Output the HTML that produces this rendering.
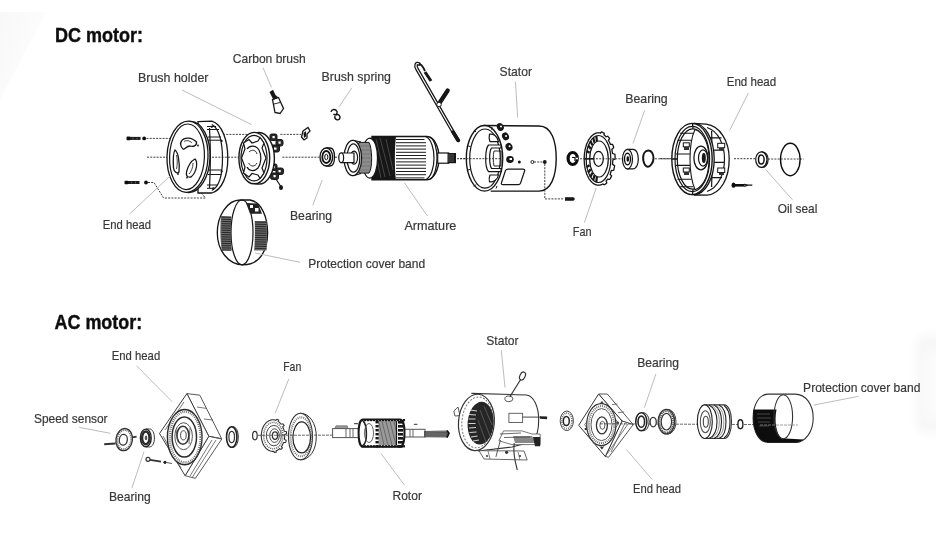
<!DOCTYPE html>
<html><head><meta charset="utf-8">
<style>
html,body{margin:0;padding:0;background:#fff;width:936px;height:556px;overflow:hidden}
svg{display:block}
.t{font-family:"Liberation Sans",sans-serif;font-size:12.6px;fill:#383838;stroke:#383838;stroke-width:0.2}
.h{font-family:"Liberation Sans",sans-serif;font-size:21px;font-weight:bold;fill:#111;stroke:#111;stroke-width:0.45}
.ld{stroke:#b4b4b4;stroke-width:0.9;fill:none}
.k{stroke:#151515;fill:none}
.k:not([stroke-width]){stroke-width:1.2}
.kf{stroke:#151515;fill:#fff}
.kf:not([stroke-width]){stroke-width:1.2}
.d{stroke:#2a2a2a;stroke-width:0.9;fill:none;stroke-dasharray:2 1.2}
</style></head><body>
<svg width="936" height="556" viewBox="0 0 936 556">
<rect width="936" height="556" fill="#fff"/>
<defs>
<linearGradient id="bg1" x1="0" y1="0" x2="1" y2="0.6"><stop offset="0" stop-color="#f8f8f8"/><stop offset="1" stop-color="#fefefe"/></linearGradient>
<filter id="soft" x="0" y="0" width="100%" height="100%"><feGaussianBlur stdDeviation="0.3"/></filter>
<filter id="bl" x="-50%" y="-50%" width="200%" height="200%"><feGaussianBlur stdDeviation="4"/></filter>
</defs>
<polygon points="0,12 46,12 0,100" fill="url(#bg1)"/>
<rect x="916" y="334" width="30" height="100" rx="10" fill="#f7f7f7" filter="url(#bl)"/>
<rect x="924" y="350" width="20" height="70" rx="8" fill="#fbfbfb" filter="url(#bl)"/>
<g filter="url(#soft)">
<!-- titles -->
<text class="h" x="55" y="42.4" textLength="88" lengthAdjust="spacingAndGlyphs">DC motor:</text>
<text class="h" x="54.5" y="328.7" textLength="87.7" lengthAdjust="spacingAndGlyphs">AC motor:</text>
<!-- DC labels -->
<text class="t" x="232.8" y="62.6" textLength="73" lengthAdjust="spacingAndGlyphs">Carbon brush</text>
<text class="t" x="138" y="82.3" textLength="70.5" lengthAdjust="spacingAndGlyphs">Brush holder</text>
<text class="t" x="321.6" y="80.6" textLength="69.4" lengthAdjust="spacingAndGlyphs">Brush spring</text>
<text class="t" x="499.6" y="75.8" textLength="32.4" lengthAdjust="spacingAndGlyphs">Stator</text>
<text class="t" x="625.3" y="103.2" textLength="42.4" lengthAdjust="spacingAndGlyphs">Bearing</text>
<text class="t" x="726.7" y="86" textLength="49.5" lengthAdjust="spacingAndGlyphs">End head</text>
<text class="t" x="777.7" y="212.6" textLength="39.7" lengthAdjust="spacingAndGlyphs">Oil seal</text>
<text class="t" x="572.8" y="236.2" textLength="18.7" lengthAdjust="spacingAndGlyphs">Fan</text>
<text class="t" x="404.4" y="229.7" textLength="52" lengthAdjust="spacingAndGlyphs">Armature</text>
<text class="t" x="290" y="220" textLength="42" lengthAdjust="spacingAndGlyphs">Bearing</text>
<text class="t" x="102.8" y="229.3" textLength="48.3" lengthAdjust="spacingAndGlyphs">End head</text>
<text class="t" x="308.2" y="268" textLength="117" lengthAdjust="spacingAndGlyphs">Protection cover band</text>
<!-- AC labels -->
<text class="t" x="111.8" y="359.5" textLength="48.4" lengthAdjust="spacingAndGlyphs">End head</text>
<text class="t" x="34" y="422.5" textLength="73.6" lengthAdjust="spacingAndGlyphs">Speed sensor</text>
<text class="t" x="109" y="500.7" textLength="41.8" lengthAdjust="spacingAndGlyphs">Bearing</text>
<text class="t" x="283.2" y="370.7" textLength="18.1" lengthAdjust="spacingAndGlyphs">Fan</text>
<text class="t" x="392.5" y="500.2" textLength="29.4" lengthAdjust="spacingAndGlyphs">Rotor</text>
<text class="t" x="486.3" y="344.5" textLength="32.3" lengthAdjust="spacingAndGlyphs">Stator</text>
<text class="t" x="637.2" y="366.5" textLength="41.8" lengthAdjust="spacingAndGlyphs">Bearing</text>
<text class="t" x="632.9" y="492.5" textLength="48.1" lengthAdjust="spacingAndGlyphs">End head</text>
<text class="t" x="803.1" y="391.5" textLength="117.3" lengthAdjust="spacingAndGlyphs">Protection cover band</text>

<!-- ===== DC PARTS ===== -->
<!-- screws left of end head -->
<g>
<rect x="126.5" y="136.6" width="4" height="3.6" rx="1" fill="#111"/><rect x="130" y="136.9" width="10.5" height="3" fill="#1a1a1a"/><path d="M133,137.6 L133,139.4 M137,137.6 L137,139.4" stroke="#888" stroke-width="0.6"/>
<circle cx="144.2" cy="138.4" r="1.9" fill="#111"/>
<line class="d" x1="146.5" y1="138.4" x2="178" y2="138.4"/>
<line class="d" x1="147" y1="157.2" x2="186" y2="157.2"/>
<rect x="124.5" y="180.7" width="4" height="3.6" rx="1" fill="#111"/><rect x="128" y="181" width="11.5" height="3" fill="#1a1a1a"/><path d="M131.5,181.7 L131.5,183.5 M135.5,181.7 L135.5,183.5" stroke="#888" stroke-width="0.6"/>
<circle cx="146" cy="182.5" r="1.9" fill="#111"/>
<path class="d" d="M148,182.5 L154,182.5 L163.6,198 L205.3,198 L201,192.5"/>
</g>
<!-- End head DC left -->
<g>
<path class="kf" stroke-width="1.3" d="M198,121.6 L211.8,121.1 C222,124 227.8,140 227.8,158 C227.8,176 222,190 211.8,193 L198,193 Z"/>
<path class="k" d="M211.8,124.5 C219,128 222.5,142 222.5,158 C222.5,174 219,187 211.8,190.5"/>
<path class="k" d="M209.5,128 C210.5,145 210.5,170 209.5,188"/>
<g stroke="#151515" stroke-width="1" fill="none">
<path d="M207,126.5 L216,126.5 M207,129.5 L219,129.5"/>
<path d="M208,137 L221,137 M208,140.2 L222,140.2"/>
<path d="M208,170 L222,170 M208,174.5 L221.5,174.5"/>
<path d="M207,185 L218,185 M207,188.3 L215,188.3"/>
</g>
<g fill="#151515"><circle cx="211.8" cy="126.8" r="1.1"/><circle cx="221.7" cy="141" r="1.1"/><circle cx="221.7" cy="171.5" r="1.1"/><circle cx="213.3" cy="188.3" r="1.1"/></g>
<ellipse class="kf" cx="189.5" cy="157" rx="20.5" ry="35.6" transform="rotate(2 189.5 157)" stroke-width="1.3"/>
<ellipse class="kf" cx="187.5" cy="156.8" rx="20.5" ry="35.6" transform="rotate(2 187.5 156.8)" stroke-width="1.3"/>
<ellipse class="k" cx="187" cy="156.8" rx="17.4" ry="32.8" transform="rotate(2 187 156.8)"/>
<path fill="#fff" stroke="#151515" stroke-width="1.3" d="M181.5,141 C184,137 192,137 196.5,142 C197,146 193,147 190,146 C186,146 185,150 183,149 C180.5,147 180,143 181.5,141 Z"/>
<path fill="#fff" stroke="#151515" stroke-width="1.3" d="M175,150 C178,152 180,162 179,172 C177,174 174,172 173.5,168 C173,160 173,153 175,150 Z"/>
<path fill="#fff" stroke="#151515" stroke-width="1.3" d="M195,159 C198,162 197,172 191,177 C187,178 186,175 186.5,172 C188,166 191,161 195,159 Z"/>
<path class="k" stroke-width="0.8" d="M184,141.5 C186,140 190,140.5 192,143 M176.5,155 C177.5,159 177.5,165 176.5,169 M193,163 C193,168 191,172 189,174"/>
<g fill="#151515"><circle cx="198" cy="145.5" r="0.9"/><circle cx="178" cy="174" r="0.9"/><circle cx="187" cy="177.5" r="0.9"/></g>
</g>
<!-- dashed lines between end head and brush holder -->
<line class="d" x1="223" y1="134.4" x2="248" y2="134.4"/>
<line class="d" x1="212" y1="157.2" x2="242" y2="157.2"/>
<!-- Brush holder -->
<g>
<g fill="#2a2a2a" stroke="#151515" stroke-width="1">
<rect x="270" y="134" width="7" height="6.5" rx="1.5"/><rect x="276" y="139.5" width="7" height="6.5" rx="2"/><rect x="270.5" y="145" width="9" height="7" rx="2"/>
<rect x="270" y="164" width="7" height="6.5" rx="1.5"/><rect x="276" y="168" width="7.5" height="6.5" rx="2"/><rect x="270.5" y="173" width="8" height="6.5" rx="2"/>
</g>
<g fill="#fff"><rect x="272.5" y="136" width="2.2" height="2.2"/><rect x="278.5" y="141.5" width="2.2" height="2.2"/><rect x="274" y="147.5" width="2.5" height="2.2"/><rect x="272.5" y="166" width="2.2" height="2.2"/><rect x="278.5" y="170" width="2.2" height="2.2"/><rect x="273.5" y="175" width="2.2" height="2.2"/></g>
<path class="k" d="M276,179 L280.5,186"/>
<ellipse cx="281" cy="187.5" rx="2" ry="2.6" fill="#151515"/>
<ellipse class="kf" cx="258.8" cy="158.3" rx="15.6" ry="25.8" stroke-width="1.4"/>
<ellipse class="kf" cx="254.3" cy="158.1" rx="15.4" ry="25.7" stroke-width="1.4"/>
<ellipse class="k" cx="254" cy="158.1" rx="13" ry="22.8"/>
<path class="kf" d="M243.5,143 L249,139.5 L252,143 L258,141 L260,137.5 L264,143 L262,148 L266,158 L262,168 L264,173 L260,178.5 L258,175 L252,173.5 L249,177 L243.5,173 L245,167 L241.5,158 L245,149 Z"/>
<path class="k" d="M247,149 C250,145 256,145 259,150 C262,156 261,164 258,168 C254,172 249,171 247,167"/>
<path class="k" stroke-width="0.9" d="M249,152 C252,149 256,150 257,154 M248.5,163 C251,167 255,167 257,163"/>
</g>
<line class="d" x1="280.4" y1="134.4" x2="301.2" y2="134.4"/>
<line class="d" x1="282.4" y1="157.2" x2="319" y2="157.2"/>
<!-- clip -->
<path fill="#fff" stroke="#151515" stroke-width="1.3" d="M303,131 L308,127.5 L310,131 L307,134 L307,138 L304,140 L301.5,137 Z"/>
<path fill="#151515" d="M303.5,133 L306,131 L306,136.5 L304,138 Z"/>
<!-- carbon brush -->
<path fill="#fff" stroke="#151515" stroke-width="1.3" d="M272.5,99.5 L278.5,97.5 L283.5,108.5 L280,113.5 L275,112.5 Z"/>
<path stroke="#151515" stroke-width="0.9" fill="none" d="M274,104 L280,102.5"/>
<path fill="#151515" d="M269.5,92 L273,89.8 L275.5,95 L278.5,97.5 L273.5,100 L271.5,96 Z"/>
<!-- brush spring -->
<path fill="none" stroke="#151515" stroke-width="1.4" d="M331,112 C331.5,109 335.5,108.5 337,111.5 C338,114 335,115.5 333.5,114 M335.5,115 C338.5,113.5 341,116 339.5,119 C337.5,121 334,119 335,116"/>
<!-- Bearing DC left -->
<g>
<path class="kf" stroke-width="1.3" d="M326.5,148 L330,148 C333,148 334.5,152 334.5,157 C334.5,162 333,166 330,166 L326.5,166 Z"/>
<ellipse class="kf" cx="326.3" cy="157" rx="6.3" ry="9" stroke-width="1.4"/>
<ellipse cx="326.3" cy="157" rx="4" ry="6" fill="none" stroke="#111" stroke-width="1.8"/>
<ellipse cx="326.3" cy="157" rx="1.6" ry="2.8" fill="#fff" stroke="#111" stroke-width="1"/>
</g>
<line class="d" x1="335" y1="157.2" x2="340" y2="157.2"/>

<!-- Armature -->
<g>
<path class="kf" d="M372,136.5 L427,136.5 C434,136.5 439,147 439,158 C439,169 434,179.8 427,179.8 L372,179.8 Z" stroke-width="1.4"/>
<path class="k" d="M426,136.8 C431,139 434,148 434,158 C434,168 431,177 426,179.5 M430,137 C435,140 437,150 437,158 C437,166 435,176 430,179.2"/>
<g stroke="#1a1a1a" stroke-width="1"><line x1="396" y1="139.5" x2="424.5" y2="139.5"/><line x1="396" y1="142.7" x2="426" y2="142.7"/><line x1="396" y1="145.9" x2="426" y2="145.9"/><line x1="396" y1="149.1" x2="426" y2="149.1"/><line x1="396" y1="152.3" x2="426" y2="152.3"/><line x1="396" y1="155.5" x2="426" y2="155.5"/><line x1="396" y1="158.7" x2="426" y2="158.7"/><line x1="396" y1="161.9" x2="426" y2="161.9"/><line x1="396" y1="165.1" x2="426" y2="165.1"/><line x1="396" y1="168.3" x2="426" y2="168.3"/><line x1="396" y1="171.5" x2="426" y2="171.5"/><line x1="396" y1="174.7" x2="426" y2="174.7"/><line x1="396" y1="177.9" x2="424.5" y2="177.9"/></g>
<path fill="#161616" d="M371.9,136.5 L396,136.5 C394.5,147 394.5,170 396,179.8 L371.9,179.8 Z"/>
<g stroke="#5a5a5a" stroke-width="0.7"><path d="M376,139 L385,177 M380,138 L390,176 M386,139 L393,170 M375,150 L381,178"/></g>
<path fill="#fff" stroke="#151515" stroke-width="1.2" d="M370,138.2 C365,138.2 362,148 362,158.2 C362,168 365,178.2 370,178.2 C375,177 377.5,168 377.5,158.2 C377.5,148 375,139.5 370,138.2 Z"/>
<path fill="#8c8c8c" stroke="#151515" stroke-width="1" d="M359,142.4 L369,142.4 C372,147 373,168 369,173.1 L359,173.1 C357,168 357,147 359,142.4 Z"/>
<g stroke="#666" stroke-width="0.6"><path d="M360,146 L370,146 M360,150 L371,150 M360,154 L371,154 M360,158 L371.5,158 M360,162 L371,162 M360,166 L371,166 M360,170 L370,170"/></g>
<path class="k" d="M353,140.4 L361,142 M353,175.6 L361,173.5"/>
<ellipse class="kf" cx="352.8" cy="158" rx="8.8" ry="17.6" stroke-width="1.3"/>
<ellipse class="k" cx="353.4" cy="158" rx="6.4" ry="14.2"/>
<ellipse class="k" cx="354" cy="157.6" rx="3.6" ry="6.5"/>
<path class="kf" d="M341,153 L354,153 L354,162.6 L341,162.6 Z"/>
<ellipse class="kf" cx="341.2" cy="157.8" rx="2.4" ry="4.8"/>
<rect class="kf" x="437.7" y="153" width="11" height="10.2"/>
<rect x="447.5" y="153" width="8.5" height="10.2" fill="#151515"/>
<g stroke="#888" stroke-width="0.6"><path d="M449,154 L449,162 M451,154 L451,162 M453,154 L453,162"/></g>
</g>
<line class="d" x1="457" y1="158.7" x2="466" y2="158.7"/>
<!-- rod -->
<g>
<path d="M419,64 C416,62 415,66 417,69 L457.8,140.2" fill="none" stroke="#151515" stroke-width="3.6" stroke-linecap="round"/>
<path d="M419,64 C416,62 415,66 417,69 L457.8,140.2" fill="none" stroke="#fff" stroke-width="1.1"/>
<path d="M419,64 C422,64 423,67 425,71" fill="none" stroke="#151515" stroke-width="1.8"/>
<path d="M425,72 L431,81" fill="none" stroke="#151515" stroke-width="3"/>
<path d="M453,132 L458.5,140.5" fill="none" stroke="#151515" stroke-width="3.4" stroke-linecap="round"/>
<path d="M439.5,103 L447.7,90.5" fill="none" stroke="#151515" stroke-width="4.2" stroke-linecap="round"/>
<circle cx="439" cy="104.5" r="2.3" fill="#fff" stroke="#151515" stroke-width="1"/>
</g>

<!-- Stator DC -->
<g>
<path class="kf" stroke-width="1.4" d="M483.3,125.5 L539,126 C552,126 556.2,142 556.2,158.5 C556.2,176 551,191.1 539,191.1 L490.6,191.1"/>
<ellipse class="kf" cx="484.5" cy="158.3" rx="18.2" ry="32.8" stroke-width="1.4"/>
<ellipse class="k" cx="485" cy="158.6" rx="15.3" ry="29.6"/>
<g stroke="#151515" stroke-width="1"><path d="M468,146 L470.5,146.5 M467.5,170 L470,169.5 M474,130 L476,132 M474,186.5 L476,184.5 M492,127 L491.5,129.5 M497,186 L496,188.5"/></g>
<path class="kf" d="M489.5,134.2 C493,133.5 497.5,136 498.5,141.7 L490,141.7 C489,139 489,136 489.5,134.2 Z M489.5,181.8 C493,182.5 497.5,180 498.5,175 L490,175 C489,177.5 489,180 489.5,181.8 Z"/>
<path class="kf" d="M501,145 L488.5,145 C485,149 484.5,167 488.5,171.7 L501,171.7 L501,168.5 L491.5,168.5 C489,164 489,152 491.5,148 L501,148 Z"/>
<path class="k" stroke-width="0.9" d="M494,151 C493,155 493,162 494,166 L501,166 L501,151 Z"/>
<g fill="#151515">
<ellipse cx="500.3" cy="127" rx="3.4" ry="4" transform="rotate(-25 500.3 127)"/><ellipse cx="505.5" cy="136.4" rx="3.4" ry="4" transform="rotate(-25 505.5 136.4)"/>
<ellipse cx="509" cy="146.8" rx="3.4" ry="4" transform="rotate(-25 509 146.8)"/><ellipse cx="510" cy="159.5" rx="3.8" ry="3.4"/>
<circle cx="519.3" cy="162" r="1.5"/><circle cx="544.8" cy="162" r="1.9"/>
</g>
<g fill="#fff"><circle cx="501" cy="126.5" r="1"/><circle cx="506" cy="136" r="1"/><circle cx="509.6" cy="146.3" r="1"/><rect x="509.5" y="158" width="2.5" height="2"/></g>
<path fill="#151515" d="M565,197.3 L573,197.3 C575,197.3 575.5,200.7 573,200.7 L565,200.7 Z"/>
<circle cx="532.4" cy="162" r="1.5" fill="#fff" stroke="#151515" stroke-width="0.9"/>
<path class="d" d="M534,162 L543,162 M544.8,164 L544.8,198.9 L564,198.9"/>
<path class="k" d="M508,169.2 L523,169.2 C524.5,169.2 525,170 524.6,171 L520.5,183.2 C520,184.2 519.5,184.6 518.5,184.6 L503,184.6 C501.5,184.6 501,184 501.4,183 L505.5,170.5 C506,169.6 506.8,169.2 508,169.2 Z"/>
</g>
<line class="d" x1="460" y1="158.7" x2="500" y2="158.7"/>
<!-- G nut -->
<ellipse cx="572.7" cy="158.5" rx="4.6" ry="6" fill="none" stroke="#111" stroke-width="3.2"/>
<path d="M573,158.5 L578,158.5" stroke="#fff" stroke-width="1.6"/>
<path d="M572,157.5 L575,157.5 L575,161" stroke="#111" stroke-width="1.2" fill="none"/>
<!-- Fan DC -->
<g>
<path fill="#fff" stroke="#151515" stroke-width="1.3" d="M598.5,132.8 L599.0,132.8 L599.5,132.9 L600.0,132.9 L600.5,133.1 L601.4,131.9 L602.0,132.1 L602.5,132.3 L603.1,132.6 L603.6,132.8 L604.2,133.2 L603.9,134.7 L604.3,135.1 L604.8,135.5 L605.2,135.9 L605.6,136.3 L606.1,136.8 L607.8,136.2 L608.3,136.8 L608.7,137.3 L609.2,137.9 L609.6,138.6 L608.4,140.2 L608.8,140.8 L609.1,141.5 L609.5,142.2 L609.8,142.9 L610.1,143.6 L610.4,144.3 L612.6,144.4 L612.9,145.2 L613.2,146.1 L613.5,146.9 L613.7,147.8 L611.8,149.2 L611.9,150.0 L612.1,150.9 L612.2,151.8 L612.4,152.7 L612.5,153.6 L614.9,154.2 L615.0,155.2 L615.0,156.1 L615.1,157.1 L615.1,158.0 L615.1,159.0 L612.8,159.9 L612.8,160.8 L612.7,161.7 L612.7,162.6 L612.6,163.5 L612.5,164.4 L614.6,165.7 L614.5,166.6 L614.3,167.5 L614.1,168.4 L613.9,169.3 L613.7,170.2 L611.4,170.5 L611.1,171.3 L610.9,172.1 L610.6,172.9 L610.4,173.7 L610.1,174.4 L611.6,175.9 L611.2,176.7 L610.9,177.4 L610.5,178.1 L610.1,178.8 L609.6,179.4 L607.7,179.1 L607.3,179.6 L606.9,180.2 L606.5,180.7 L606.1,181.2 L606.8,182.8 L606.3,183.3 L605.8,183.7 L605.3,184.1 L604.7,184.5 L604.2,184.8 L602.9,183.9 L602.4,184.2 L602.0,184.4 L601.5,184.6 L601.0,184.8 L600.5,184.9 L600.0,185.1 L599.5,185.1 L599.0,185.2 L598.5,185.2 L598.0,185.2 L597.5,185.1 L597.0,185.1 L596.5,184.9 L596.0,184.8 L595.5,184.6 L595.0,184.4 L594.6,184.2 L594.1,183.9 L593.6,183.6 L593.1,183.3 L592.7,182.9 L592.2,182.5 L591.8,182.1 L591.4,181.7 L590.9,181.2 L590.5,180.7 L590.1,180.2 L589.7,179.6 L589.3,179.1 L588.9,178.5 L588.6,177.8 L588.2,177.2 L587.9,176.5 L587.5,175.8 L587.2,175.1 L586.9,174.4 L586.6,173.7 L586.4,172.9 L586.1,172.1 L585.9,171.3 L585.6,170.5 L585.4,169.7 L585.2,168.8 L585.1,168.0 L584.9,167.1 L584.8,166.2 L584.6,165.3 L584.5,164.4 L584.4,163.5 L584.3,162.6 L584.3,161.7 L584.2,160.8 L584.2,159.9 L584.2,159.0 L584.2,158.1 L584.2,157.2 L584.3,156.3 L584.3,155.4 L584.4,154.5 L584.5,153.6 L584.6,152.7 L584.8,151.8 L584.9,150.9 L585.1,150.0 L585.2,149.2 L585.4,148.3 L585.6,147.5 L585.9,146.7 L586.1,145.9 L586.4,145.1 L586.6,144.3 L586.9,143.6 L587.2,142.9 L587.5,142.2 L587.9,141.5 L588.2,140.8 L588.6,140.2 L588.9,139.5 L589.3,138.9 L589.7,138.4 L590.1,137.8 L590.5,137.3 L590.9,136.8 L591.4,136.3 L591.8,135.9 L592.2,135.5 L592.7,135.1 L593.1,134.7 L593.6,134.4 L594.1,134.1 L594.6,133.8 L595.0,133.6 L595.5,133.4 L596.0,133.2 L596.5,133.1 L597.0,132.9 L597.5,132.9 L598.0,132.8 L598.5,132.8 Z"/>
<ellipse class="k" cx="598.5" cy="159" rx="12.3" ry="23.5"/>
<ellipse class="k" cx="599.0" cy="159" rx="9.3" ry="18"/>
<path stroke="#151515" stroke-width="2.2" fill="none" d="M589.6,152.8 L586.7,151.0 M590.7,148.7 L588.2,145.5 M592.4,145.2 L590.4,141.0 M594.5,142.7 L593.2,137.7 M596.9,141.3 L596.3,135.9 M596.9,176.7 L596.3,182.1 M594.5,175.3 L593.2,180.3 M592.4,172.8 L590.4,177.0 M590.7,169.3 L588.2,172.5 M589.6,165.2 L586.7,167.0 "/>
<ellipse class="k" cx="598.5" cy="158.8" rx="4.8" ry="7.5"/>
<path class="k" stroke-width="1.6" d="M584.5,158.8 L594,158.8"/>
</g>
<line class="d" x1="580" y1="158.8" x2="622" y2="158.8"/>
<!-- Bearing DC right -->
<g>
<path class="kf" d="M627.5,149.3 L633,149.3 C636.5,149.3 638.3,154 638.3,159 C638.3,164 636.5,168.9 633,168.9 L627.5,168.9 Z"/>
<ellipse class="kf" cx="627.5" cy="159.1" rx="5" ry="9.8"/>
<ellipse cx="627.5" cy="159.1" rx="3" ry="5.8" fill="none" stroke="#111" stroke-width="1.4"/>
<ellipse cx="627.8" cy="159.1" rx="1.3" ry="3" fill="#111"/>
</g>
<path class="k" stroke-width="2" d="M648.3,150.5 C652,150.5 653.5,155 653.5,158 C653.5,163 650,166.8 648,166.8 C645,166.8 643.1,162 643.1,158 C643.1,154 645,150.5 648.3,150.5 Z"/>
<line class="d" x1="655" y1="158.8" x2="672" y2="158.8"/>
<!-- End head DC right -->
<g>
<path class="kf" stroke-width="1.3" d="M694,123.4 L706.2,124.2 C720,126 729.2,141 729.2,159 C729.2,178 721,194 707,195.2 L694,195"/>
<path class="k" d="M707,127.5 C718,131 724.5,144 724.5,159 C724.5,174 718,188 707,191.5"/>
<path class="k" d="M711.6,131 C712.5,148 712.5,170 711.6,187"/>
<g stroke="#151515" stroke-width="1.1" fill="none">
<path d="M710,137.9 L721.5,137.9 M711,150.1 L724,150.1 M711,162.4 L724.3,162.4 M710.5,177.6 L722,177.6"/>
</g>
<g fill="#fff" stroke="#151515" stroke-width="1"><rect x="717.7" y="143.3" width="7" height="4.5"/><rect x="717.7" y="168" width="7" height="4.5"/></g>
<g fill="#333"><rect x="719" y="147.8" width="5" height="2.5"/><rect x="719" y="172.5" width="5" height="2.5"/></g>
<ellipse class="kf" cx="694" cy="159" rx="20.2" ry="35.6" stroke-width="1.3"/>
<ellipse class="kf" cx="692" cy="159" rx="20.2" ry="35.6" stroke-width="1.4"/>
<ellipse class="k" cx="692.3" cy="159" rx="17.3" ry="32.6"/>
<ellipse class="k" cx="692.8" cy="159" rx="15.5" ry="30.2"/>
<path class="k" stroke-width="1.3" d="M692.5,123.4 L693,128.8 M692.5,194.4 L693,189.2 M672,159 L677.5,159"/>
<path fill="#fff" stroke="#151515" stroke-width="1.1" d="M695,129.5 C705,133 709,146 709,159 C709,173 705,186 695,189.8 C691,180 690,170 690,159 C690,148 691,138 695,129.5 Z"/>
<g stroke="#151515" stroke-width="1.1" fill="none">
<path d="M680,133.3 L693,133.3 M677.5,140.2 L691.5,140.2 M676,154 L690,154 M676,165.4 L690,165.4 M677.5,179.2 L691.5,179.2 M680,186.8 L693,186.8"/>
</g>
<g fill="#fff" stroke="#151515" stroke-width="1"><rect x="683.3" y="142.8" width="6" height="4"/><rect x="683.3" y="168" width="6" height="4"/></g>
<g fill="#333"><rect x="684" y="147" width="5" height="3"/><rect x="684" y="172" width="5" height="3"/></g>
<ellipse class="kf" cx="700.9" cy="158" rx="7" ry="11.8" stroke-width="1.3"/>
<ellipse class="k" cx="703" cy="158" rx="4.5" ry="8.2"/>
<ellipse cx="703.8" cy="158" rx="2" ry="5" fill="#151515"/>
</g>
<line class="d" x1="660" y1="158.7" x2="672" y2="158.7"/>
<line class="d" x1="734" y1="158.7" x2="756" y2="158.7"/>
<!-- oil seal -->
<g>
<ellipse class="kf" cx="762.5" cy="159.6" rx="5.6" ry="7.7"/>
<ellipse class="kf" cx="761.3" cy="159.6" rx="5.6" ry="7.7"/>
<ellipse cx="761.3" cy="159.6" rx="2.8" ry="4.5" fill="none" stroke="#111" stroke-width="1.5"/>
</g>
<line class="d" x1="768" y1="159" x2="803.6" y2="159"/>
<ellipse cx="790.3" cy="159.5" rx="9.8" ry="16.2" fill="none" stroke="#111" stroke-width="1.4"/>
<!-- screw right -->
<g>
<ellipse cx="733.5" cy="185.2" rx="2" ry="2.6" fill="#111"/>
<rect x="734" y="184" width="10" height="2.6" fill="#111"/>
<path class="k" d="M744,184.3 L748,185.2 L744,186.3 M748,185.2 L752.3,185.2"/>
</g>
<!-- Protection cover band DC -->
<g>
<path fill="#fff" stroke="#151515" stroke-width="1.3" d="M240.3,200 L250,200 C262,202 267.6,218 267.6,233 C267.6,250 260,264.8 243.2,264.8 C228,264.8 217.3,250 217.3,233 C217.3,216 227,200 240.3,200 Z"/>
<ellipse cx="242" cy="232.4" rx="11" ry="32.4" fill="none" stroke="#151515" stroke-width="1.2"/>
<path fill="#6a6a6a" d="M221,216 L231.5,216.5 C230.5,228 230.5,240 232,250.4 L222,250.4 C220,240 220,226 221,216 Z"/>
<path fill="#6a6a6a" d="M254.7,221 L266.5,221 C267.3,232 267.3,242 266.5,250.4 L254,250.4 C255,241 255,230 254.7,221 Z"/>
<path stroke="#222" stroke-width="0.9" fill="none" d="M221.5,217.0 L231,217.3 M221.5,219.2 L231,219.5 M221.5,221.4 L231,221.7 M221.5,223.6 L231,223.9 M221.5,225.8 L231,226.1 M221.5,228.0 L231,228.3 M221.5,230.2 L231,230.5 M221.5,232.4 L231,232.7 M221.5,234.6 L231,234.9 M221.5,236.8 L231,237.1 M221.5,239.0 L231,239.3 M221.5,241.2 L231,241.5 M221.5,243.4 L231,243.7 M221.5,245.6 L231,245.9 M221.5,247.8 L231,248.1 M221.5,250.0 L231,250.3 M255,222.0 L266.5,222.3 M255,224.2 L266.5,224.5 M255,226.4 L266.5,226.7 M255,228.6 L266.5,228.9 M255,230.8 L266.5,231.1 M255,233.0 L266.5,233.3 M255,235.2 L266.5,235.5 M255,237.4 L266.5,237.7 M255,239.6 L266.5,239.9 M255,241.8 L266.5,242.1 M255,244.0 L266.5,244.3 M255,246.2 L266.5,246.5 M255,248.4 L266.5,248.7 "/>
<path fill="#222" d="M246,203 L258,203.5 L262,213.7 L250,213.7 Z"/>
<g fill="#fff"><rect x="250" y="205" width="3" height="3"/><rect x="255" y="208" width="3.5" height="3.5"/></g>
</g>
<!-- ===== AC PARTS ===== -->
<!-- speed sensor -->
<g>
<path d="M104.2,444.2 L115.5,443.6" stroke="#333" stroke-width="2" fill="none"/>
<path d="M130.6,437.7 L136.6,436.6" stroke="#333" stroke-width="1.8" fill="none"/>
<ellipse cx="124.2" cy="439.6" rx="8.2" ry="11.1" fill="#fff" stroke="#333" stroke-width="1.4" transform="rotate(8 124.2 439.6)"/>
<ellipse cx="124.2" cy="439.6" rx="6.9" ry="9.6" fill="none" stroke="#666" stroke-width="1.8" stroke-dasharray="1 1" transform="rotate(8 124.2 439.6)"/>
<ellipse cx="123.3" cy="439.8" rx="4" ry="5.4" fill="#fff" stroke="#333" stroke-width="1.3" transform="rotate(8 123.3 439.8)"/>
</g>
<!-- bearing AC left -->
<g>
<path fill="#fff" stroke="#333" stroke-width="1" d="M146,429 L149.5,429 C152.5,429 154.4,433 154.4,438 C154.4,443 152.5,446.9 149.5,446.9 L146,446.9 Z"/>
<ellipse cx="145.8" cy="437.9" rx="5.4" ry="8.8" fill="#fff" stroke="#222" stroke-width="1.4"/>
<ellipse cx="145.8" cy="437.9" rx="3.7" ry="6.4" fill="none" stroke="#2a2a2a" stroke-width="2.4"/>
<ellipse cx="146" cy="437.9" rx="1.3" ry="2.4" fill="#555"/>
</g>
<!-- screw -->
<g>
<circle cx="148" cy="459.3" r="2" fill="#fff" stroke="#333" stroke-width="1.2"/>
<path d="M150,459.8 L161,461.7" stroke="#333" stroke-width="1.8"/>
<circle cx="165" cy="462.3" r="1.6" fill="#222"/>
<path d="M167,462.6 L172,463.5" stroke="#444" stroke-width="0.9"/>
</g>
<!-- End head AC left -->
<g stroke="#3a3a3a" stroke-width="0.9" fill="#fff">
<path d="M186.9,393.6 L199.8,395.2 L221.8,439 L208.8,436.3 Z" stroke="#444"/>
<path d="M208.8,436.3 L221.8,439 L195.4,478.4 L185.1,475.7 Z" stroke="#444"/>
<path d="M159.5,433.5 L186.9,393.6 L208.8,436.3 L185.1,475.7 Z" stroke="#3a3a3a" stroke-width="1"/>
<path fill="none" stroke="#555" stroke-width="0.8" d="M197,407 L207,408.5 M204,419 L213,420 M210.5,436.5 L221,438.5 M212,440 L190,476 M216,440 L192.5,477 M163,436 L181,468 M165,430 L184,402"/>
<ellipse cx="184.7" cy="437.1" rx="17.3" ry="27.6" stroke="#2a2a2a" stroke-width="1.4"/>
<ellipse cx="185.2" cy="437.1" rx="15.4" ry="25.4" fill="none" stroke="#777" stroke-width="2.4" stroke-dasharray="1 1"/>
<ellipse cx="184.3" cy="437.1" rx="12.2" ry="20" stroke="#2a2a2a" stroke-width="1.5"/>
<ellipse cx="183.6" cy="436.2" rx="8.8" ry="13.5" fill="none" stroke="#555" stroke-width="1"/>
<ellipse cx="182.9" cy="435.3" rx="6" ry="9" stroke="#333" stroke-width="1.6"/>
<ellipse cx="183.4" cy="435.3" rx="2.8" ry="4.6" stroke="#444" stroke-width="1"/>
<path fill="none" stroke="#555" stroke-width="0.8" d="M176,430 L178,442 M190,428 L189,444"/>
</g>
<!-- bearing right of end head -->
<g>
<ellipse cx="233.3" cy="437" rx="5" ry="10.3" fill="#fff" stroke="#333" stroke-width="1"/>
<ellipse cx="231.7" cy="437" rx="5.2" ry="10.3" fill="#fff" stroke="#222" stroke-width="1.6"/>
<ellipse cx="231.7" cy="437" rx="2.8" ry="5.6" fill="none" stroke="#333" stroke-width="1.2"/>
</g>
<!-- fan AC -->
<g>
<ellipse cx="254.9" cy="435.6" rx="2.3" ry="4.3" fill="none" stroke="#333" stroke-width="1.2"/>
<path fill="#fff" stroke="#333" stroke-width="1.1" d="M273.0,419.8 L273.4,419.8 L273.8,419.8 L274.2,419.9 L274.6,420.0 L275.0,420.0 L275.4,420.1 L275.8,420.3 L276.8,419.3 L277.2,419.4 L277.7,419.6 L278.1,419.8 L278.6,420.1 L278.1,421.4 L278.5,421.6 L278.9,421.9 L279.2,422.2 L279.5,422.5 L279.9,422.8 L280.2,423.1 L280.5,423.5 L280.8,423.9 L281.1,424.2 L282.9,423.8 L283.2,424.2 L283.5,424.7 L283.8,425.1 L284.1,425.6 L282.7,426.8 L282.9,427.2 L283.1,427.7 L283.3,428.2 L283.5,428.7 L283.7,429.2 L283.8,429.7 L284.0,430.2 L284.1,430.7 L284.2,431.2 L286.3,431.5 L286.4,432.1 L286.5,432.6 L286.6,433.2 L286.6,433.8 L284.7,434.5 L284.7,435.0 L284.7,435.6 L284.7,436.2 L284.7,436.7 L284.6,437.3 L284.6,437.8 L284.5,438.3 L284.4,438.9 L284.4,439.4 L286.2,440.3 L286.0,440.9 L285.9,441.4 L285.7,442.0 L285.5,442.5 L283.5,442.5 L283.3,443.0 L283.1,443.5 L282.9,444.0 L282.7,444.4 L282.5,444.9 L282.2,445.3 L282.0,445.8 L281.7,446.2 L281.4,446.6 L282.5,447.8 L282.2,448.2 L281.8,448.6 L281.4,449.0 L281.1,449.4 L279.5,448.7 L279.2,449.0 L278.9,449.3 L278.5,449.6 L278.1,449.8 L277.8,450.0 L277.4,450.2 L277.0,450.4 L276.6,450.6 L276.2,450.8 L276.3,452.1 L275.8,452.2 L275.4,452.3 L274.9,452.4 L274.4,452.5 L273.8,451.4 L273.4,451.4 L273.0,451.4 L272.6,451.4 L272.2,451.4 L271.8,451.3 L271.4,451.2 L271.0,451.2 L270.6,451.1 L270.2,450.9 L269.8,450.8 L269.4,450.6 L269.0,450.4 L268.6,450.2 L268.2,450.0 L267.9,449.8 L267.5,449.6 L267.1,449.3 L266.8,449.0 L266.5,448.7 L266.1,448.4 L265.8,448.1 L265.5,447.7 L265.2,447.3 L264.9,447.0 L264.6,446.6 L264.3,446.2 L264.0,445.8 L263.8,445.3 L263.5,444.9 L263.3,444.4 L263.1,444.0 L262.9,443.5 L262.7,443.0 L262.5,442.5 L262.3,442.0 L262.2,441.5 L262.0,441.0 L261.9,440.5 L261.8,440.0 L261.6,439.4 L261.6,438.9 L261.5,438.3 L261.4,437.8 L261.4,437.3 L261.3,436.7 L261.3,436.2 L261.3,435.6 L261.3,435.0 L261.3,434.5 L261.4,433.9 L261.4,433.4 L261.5,432.9 L261.6,432.3 L261.6,431.8 L261.8,431.2 L261.9,430.7 L262.0,430.2 L262.2,429.7 L262.3,429.2 L262.5,428.7 L262.7,428.2 L262.9,427.7 L263.1,427.2 L263.3,426.8 L263.5,426.3 L263.8,425.9 L264.0,425.4 L264.3,425.0 L264.6,424.6 L264.9,424.2 L265.2,423.9 L265.5,423.5 L265.8,423.1 L266.1,422.8 L266.5,422.5 L266.8,422.2 L267.1,421.9 L267.5,421.6 L267.9,421.4 L268.2,421.2 L268.6,421.0 L269.0,420.8 L269.4,420.6 L269.8,420.4 L270.2,420.3 L270.6,420.1 L271.0,420.0 L271.4,420.0 L271.8,419.9 L272.2,419.8 L272.6,419.8 L273.0,419.8 Z"/>
<ellipse cx="273.3" cy="435.6" rx="9.6" ry="13.2" fill="none" stroke="#666" stroke-width="1.6" stroke-dasharray="1 1"/>
<ellipse cx="273.8" cy="435.6" rx="7.5" ry="10.2" fill="none" stroke="#444" stroke-width="1"/>
<ellipse cx="274.5" cy="435.6" rx="4.8" ry="6.8" fill="none" stroke="#444" stroke-width="1"/>
<ellipse cx="275" cy="435.6" rx="2.6" ry="3.8" fill="none" stroke="#333" stroke-width="1.3"/>
</g>
<!-- washer ring -->
<g>
<path fill="#fff" stroke="#333" stroke-width="1" d="M300,413.2 C310,413.2 316.3,424 316.3,436.5 C316.3,450 310,459.9 300,459.9"/>
<ellipse cx="300.5" cy="436.5" rx="12" ry="23.3" fill="#fff" stroke="#333" stroke-width="1.1"/>
<ellipse cx="301" cy="436.8" rx="10.4" ry="19.5" fill="none" stroke="#777" stroke-width="2" stroke-dasharray="1 1"/>
<ellipse cx="301.7" cy="437.4" rx="8.8" ry="15.5" fill="#fff" stroke="#222" stroke-width="1.2"/>
</g>
<line x1="258" y1="435.3" x2="445" y2="434.9" stroke="#444" stroke-width="0.8" stroke-dasharray="3 1"/>
<!-- rotor -->
<g>
<path d="M334.7,428.6 L336,425.8 L347.2,425.8 L348,428.6 Z" fill="#999" stroke="#555" stroke-width="0.6"/>
<path d="M354,423.7 L358,423.7 M413.9,424.4 L417.4,424.4" stroke="#555" stroke-width="1.3"/>
<rect x="332.6" y="428.6" width="27" height="9" fill="#fff" stroke="#555" stroke-width="1"/>
<path d="M346,428.6 L346,437.6 M350,428.6 L350,437.6 M353,428.6 L353,437.6" stroke="#555" stroke-width="0.9"/>
<rect x="403" y="429.3" width="22" height="7.7" fill="#fff" stroke="#555" stroke-width="1"/>
<path d="M410,429.3 L410,437 M413,429.3 L413,437" stroke="#555" stroke-width="0.9"/>
<path d="M424,431 L447,430.5 L448.6,433 L447,437.6 L424,437.2 Z" fill="#555"/><path d="M426,432 L446,431.5 M426,434 L446,434 M426,436 L446,436.2" stroke="#999" stroke-width="0.5"/>
<path d="M447,430.5 L449,433 L447,437.6" stroke="#111" stroke-width="1.6" fill="none"/>
<path d="M363,419.6 L400,419.6 C403,419.6 404.5,426 404.5,433 C404.5,440 403,446.7 400,446.7 L363,446.7 C360,446.7 358.6,440 358.6,433 C358.6,426 360,419.6 363,419.6 Z" fill="#fff" stroke="#151515" stroke-width="2"/>
<path d="M378.5,421 L397,421 L397,445.3 L378.5,445.3 Z" fill="#9a9a9a"/>
<g stroke="#555" stroke-width="0.7"><path d="M379,423 L384,445 M382,421.5 L388,445 M386,421.5 L392,445 M390,421.5 L396,445 M394,421.5 L397,434"/></g>
<path d="M363,421 C367,424 368,442 363,445.5" stroke="#222" stroke-width="1.6" fill="none"/>
<ellipse cx="369" cy="433" rx="4.5" ry="9.5" fill="none" stroke="#555" stroke-width="0.9"/>
<g fill="#151515"><rect x="361" y="419" width="2" height="2.2"/><rect x="361" y="445.2" width="2" height="2.2"/><rect x="364" y="419" width="2" height="2.2"/><rect x="364" y="445.2" width="2" height="2.2"/><rect x="367" y="419" width="2" height="2.2"/><rect x="367" y="445.2" width="2" height="2.2"/><rect x="370" y="419" width="2" height="2.2"/><rect x="370" y="445.2" width="2" height="2.2"/><rect x="373" y="419" width="2" height="2.2"/><rect x="373" y="445.2" width="2" height="2.2"/><rect x="376" y="419" width="2" height="2.2"/><rect x="376" y="445.2" width="2" height="2.2"/><rect x="379" y="419" width="2" height="2.2"/><rect x="379" y="445.2" width="2" height="2.2"/><rect x="382" y="419" width="2" height="2.2"/><rect x="382" y="445.2" width="2" height="2.2"/><rect x="385" y="419" width="2" height="2.2"/><rect x="385" y="445.2" width="2" height="2.2"/><rect x="388" y="419" width="2" height="2.2"/><rect x="388" y="445.2" width="2" height="2.2"/><rect x="391" y="419" width="2" height="2.2"/><rect x="391" y="445.2" width="2" height="2.2"/><rect x="394" y="419" width="2" height="2.2"/><rect x="394" y="445.2" width="2" height="2.2"/><rect x="397" y="419" width="2" height="2.2"/><rect x="397" y="445.2" width="2" height="2.2"/><rect x="400" y="419" width="2" height="2.2"/><rect x="400" y="445.2" width="2" height="2.2"/><rect x="403" y="419" width="2" height="2.2"/><rect x="403" y="445.2" width="2" height="2.2"/><rect x="375.5" y="421" width="3.2" height="2.4"/><rect x="375.5" y="425" width="3.2" height="2.4"/><rect x="375.5" y="429" width="3.2" height="2.4"/><rect x="375.5" y="433" width="3.2" height="2.4"/><rect x="375.5" y="437" width="3.2" height="2.4"/><rect x="375.5" y="441" width="3.2" height="2.4"/><rect x="375.5" y="445" width="3.2" height="2.4"/><rect x="398" y="421" width="5" height="2.6"/><rect x="398" y="425" width="5" height="2.6"/><rect x="398" y="429" width="5" height="2.6"/><rect x="398" y="433" width="5" height="2.6"/><rect x="398" y="437" width="5" height="2.6"/><rect x="398" y="441" width="5" height="2.6"/><rect x="398" y="445" width="5" height="2.6"/></g>
<path d="M396.5,421 L396.5,445.5" stroke="#151515" stroke-width="1.2"/>
</g>
<!-- Stator AC -->
<g>
<path d="M453.8,411 L458,407 L460,415.6 L455,416 Z" fill="#fff" stroke="#444" stroke-width="0.9"/>
<path d="M471.4,393.4 L526.5,395 C534,396 538.7,407 538.7,420 C538.7,430 536,438 532.6,441.6 L512,447 L478,451" fill="#fff" stroke="#333" stroke-width="1.1"/>
<path d="M479,450.7 L484,459 L527.2,460 L524,451 Z" fill="#fff" stroke="#555" stroke-width="0.9"/>
<path d="M488,451 L490,459 M518,452 L520,460" stroke="#666" stroke-width="0.8"/>
<circle cx="487" cy="456" r="1.1" fill="#444"/><circle cx="520" cy="456" r="1.1" fill="#444"/>
<path d="M503.5,430.9 L521.9,430.9 L532,434 L540.2,434 L540.2,444.6 L512,444.6 L498.9,440.8 Z" fill="#fff" stroke="#555" stroke-width="0.8"/>
<path d="M513,436 L532,436 L536,443 L515,443 Z" fill="#888"/>
<path d="M533,437 L540.2,437 L540.2,446.2 L535,446.2 Z" fill="#222"/>
<path d="M500,434 L521,433 M504,437.5 L530,437" stroke="#444" stroke-width="0.8"/>
<path d="M500.5,440 L495.9,456.9" stroke="#444" stroke-width="0.9"/>
<path d="M514.2,443.1 C513,452 515,462 517.3,470" stroke="#333" stroke-width="1.1" fill="none"/>
<circle cx="506.6" cy="452.3" r="1.6" fill="#333"/>
<ellipse cx="508.9" cy="398.8" rx="4" ry="2.8" fill="#fff" stroke="#555" stroke-width="1"/>
<path d="M510,396.5 L521,379" stroke="#333" stroke-width="1.2"/>
<ellipse cx="522.5" cy="376" rx="2.6" ry="4.2" fill="#fff" stroke="#333" stroke-width="1.2" transform="rotate(25 522.5 376)"/>
<rect x="508.9" y="413.3" width="13.7" height="9.2" fill="#fff" stroke="#555" stroke-width="0.9"/>
<path d="M522.6,417.1 L541,417.1" stroke="#444" stroke-width="1"/>
<path d="M540,417.5 L547.1,417.9" stroke="#222" stroke-width="2.6"/>
<ellipse cx="476.4" cy="422.4" rx="17.9" ry="28.2" fill="#fff" stroke="#333" stroke-width="1.2" transform="rotate(4 476.4 422.4)"/>
<ellipse cx="477.4" cy="422.4" rx="15.5" ry="25.5" fill="none" stroke="#777" stroke-width="1" stroke-dasharray="2 1.5" transform="rotate(4 477.4 422.4)"/>
<ellipse cx="480.6" cy="423.2" rx="13" ry="21.4" fill="#262626" transform="rotate(4 480.6 423.2)"/>
<g stroke="#e8e8e8" stroke-width="0.9">
<path d="M470,410 L477,411 M469,414.5 L476,415 M468.5,419 L475.5,419 M468.5,423.5 L475.5,423.5 M469,428 L476,427.5 M469.5,432.5 L476.5,432 M471,437 L477.5,436 M473,441 L479,440"/>
</g>
<g stroke="#666" stroke-width="0.7"><path d="M480,410 L490,436 M484,406 L492,425 M478,420 L486,442"/></g>
</g>
<!-- washer right of stator -->
<g>
<ellipse cx="566.8" cy="420.8" rx="6.6" ry="9.8" fill="#fff" stroke="#444" stroke-width="1"/>
<ellipse cx="566.8" cy="420.8" rx="5.2" ry="7.8" fill="none" stroke="#777" stroke-width="1.8" stroke-dasharray="1 1"/>
<ellipse cx="566.3" cy="421" rx="3" ry="4.6" fill="#fff" stroke="#222" stroke-width="1.5"/>
</g>
<!-- End head AC right -->
<g stroke="#3a3a3a" stroke-width="0.9" fill="#fff">
<path d="M598.6,394 L607.3,394 L633.2,424.6 L622,421 Z" stroke="#444"/>
<path d="M622,421 L633.2,424.6 L608.6,457.2 L605.3,456.5 Z" stroke="#444"/>
<path d="M578.7,425.3 L598.6,394 L622,421 L605.3,456.5 Z" stroke="#333" stroke-width="1"/>
<path fill="none" stroke="#555" stroke-width="0.8" d="M584.6,424.6 L601.9,401.3 L618.6,423.3 L601.9,449.2 Z M612,404.6 L617.5,404 M618,412.6 L624,412 M625,423 L611,452 M628,424 L607,454"/>
<g fill="#333" stroke="none"><circle cx="601.9" cy="403.3" r="1.2"/><circle cx="585.8" cy="429" r="1.2"/><circle cx="617.6" cy="422.6" r="1.2"/><circle cx="601.9" cy="447.6" r="1.2"/></g>
<ellipse cx="601.3" cy="424.6" rx="14.6" ry="21" stroke="#333" stroke-width="1.2"/>
<ellipse cx="601.5" cy="424.6" rx="12.6" ry="18.5" fill="none" stroke="#777" stroke-width="2" stroke-dasharray="1 1"/>
<ellipse cx="601.5" cy="424.6" rx="10.5" ry="16" fill="none" stroke="#444" stroke-width="0.9"/>
<ellipse cx="601.9" cy="425.3" rx="5.5" ry="8.5" stroke="#333" stroke-width="1.3"/>
<ellipse cx="602.4" cy="425.3" rx="2.5" ry="4" stroke="#555" stroke-width="1"/>
</g>
<line x1="600" y1="423.8" x2="810" y2="424.8" stroke="#444" stroke-width="0.8" stroke-dasharray="3 1"/>
<!-- bearings AC right -->
<g>
<ellipse cx="643.5" cy="421.7" rx="5.6" ry="9" fill="#fff" stroke="#333" stroke-width="1"/>
<ellipse cx="641.3" cy="421.7" rx="5.6" ry="9" fill="#fff" stroke="#222" stroke-width="1.5"/>
<ellipse cx="641.3" cy="421.7" rx="3.3" ry="5.6" fill="none" stroke="#222" stroke-width="1.6"/>
<ellipse cx="653.2" cy="422.1" rx="3.1" ry="4.8" fill="#fff" stroke="#333" stroke-width="1.3"/>
<ellipse cx="668" cy="421.7" rx="8" ry="12.3" fill="#fff" stroke="#444" stroke-width="1"/>
<ellipse cx="666.4" cy="421.7" rx="8.2" ry="12.3" fill="#fff" stroke="#333" stroke-width="1.4"/><ellipse cx="666.4" cy="421.7" rx="6.9" ry="10.8" fill="none" stroke="#555" stroke-width="2" stroke-dasharray="1.2 0.8"/>
<ellipse cx="666.4" cy="421.7" rx="5.2" ry="8.3" fill="#fff" stroke="#333" stroke-width="1.2"/>
</g>
<!-- pulley -->
<g fill="#fff" stroke="#333" stroke-width="1.1">
<path d="M704.8,404.9 L724,404.9 C729,405 731.5,413 731.5,421.7 C731.5,430 729,438.5 724,438.5 L704.8,438.5 Z"/>
<path fill="none" stroke="#222" d="M709,405 C715,408 717,415 717,421.7 C717,429 715,436 709,438.5 M714,405 C720,408 721.5,415 721.5,421.7 C721.5,429 720,436 714,438.5 M719,405 C725,408 726,415 726,421.7 C726,429 725,436 719,438.5 M724,405.5 C729,409 730,415 730,421.7 C730,429 729,435 724,438"/>
<path fill="none" stroke="#777" stroke-width="0.8" d="M711.5,405.5 C717.5,409 719.3,415 719.3,421.7 C719.3,429 717.5,435 711.5,438 M716.5,405.5 C722.5,409 723.8,415 723.8,421.7 C723.8,429 722.5,435 716.5,438"/>
<ellipse cx="704.8" cy="421.7" rx="7.5" ry="16.8" stroke="#222"/>
<ellipse cx="705.3" cy="421.7" rx="5" ry="11" stroke="#555"/>
<ellipse cx="705.8" cy="421.7" rx="2.5" ry="5.5" stroke="#444"/>
</g>
<ellipse cx="740.4" cy="424.2" rx="2.5" ry="4.5" fill="#fff" stroke="#222" stroke-width="1.4"/>
<!-- cover band AC -->
<g>
<path d="M768,394.1 L795,394.1 C806,394.1 813.2,405 813.2,418 C813.2,431 806,442.5 795,442.5 L768,442.5 C759,442.5 753.1,431 753.1,418 C753.1,405 759,394.1 768,394.1 Z" fill="#fff" stroke="#333" stroke-width="1.1"/>
<path d="M753.3,409.5 L776.5,409.5 C774.5,420 775.5,431 781,438.2 L803.5,439.6 C801,441.5 798,442.5 795,442.5 L768,442.5 C759,442.5 753.1,431 753.1,418 Z" fill="#111"/>
<g stroke="#666" stroke-width="0.6"><path d="M757,414 L770,414 M757,418 L771,418 M758,422 L770,422 M759,426 L769,426"/></g>
<ellipse cx="783.3" cy="416.7" rx="9.3" ry="22" fill="none" stroke="#333" stroke-width="1.1"/>
<line x1="760" y1="425" x2="798" y2="425" stroke="#888" stroke-width="0.8" stroke-dasharray="3 1"/>
</g>
<!-- leader lines DC -->
<g class="ld">
<line x1="182" y1="90" x2="251.5" y2="124.6"/>
<line x1="263" y1="67.7" x2="271.5" y2="87.4"/>
<line x1="351.9" y1="87.7" x2="339.3" y2="106.6"/>
<line x1="515.4" y1="81.6" x2="517.7" y2="117.6"/>
<line x1="644.6" y1="110.4" x2="633" y2="143.5"/>
<line x1="748.3" y1="93.1" x2="729.6" y2="130.5"/>
<line x1="765.6" y1="169.4" x2="792.3" y2="199.6"/>
<line x1="596.2" y1="188" x2="584.4" y2="222.6"/>
<line x1="404.4" y1="182.8" x2="427.4" y2="216"/>
<line x1="322.2" y1="180" x2="312.8" y2="205.4"/>
<line x1="129.6" y1="214" x2="170" y2="176"/>
<line x1="255.2" y1="253" x2="300" y2="262.3"/>
<!-- AC -->
<line x1="136.6" y1="365.8" x2="172.3" y2="401.8"/>
<line x1="79.3" y1="427.4" x2="110.3" y2="433.3"/>
<line x1="144" y1="451.7" x2="131.9" y2="488"/>
<line x1="288.9" y1="378.8" x2="275.1" y2="413.3"/>
<line x1="381" y1="453.6" x2="404.6" y2="485.3"/>
<line x1="501.3" y1="350.2" x2="505" y2="387.6"/>
<line x1="655.9" y1="374" x2="644.4" y2="407.6"/>
<line x1="626.3" y1="449.4" x2="652.2" y2="479.6"/>
<line x1="813.6" y1="405.1" x2="858.7" y2="396.3"/>
</g>
</g>
</svg>
</body></html>
